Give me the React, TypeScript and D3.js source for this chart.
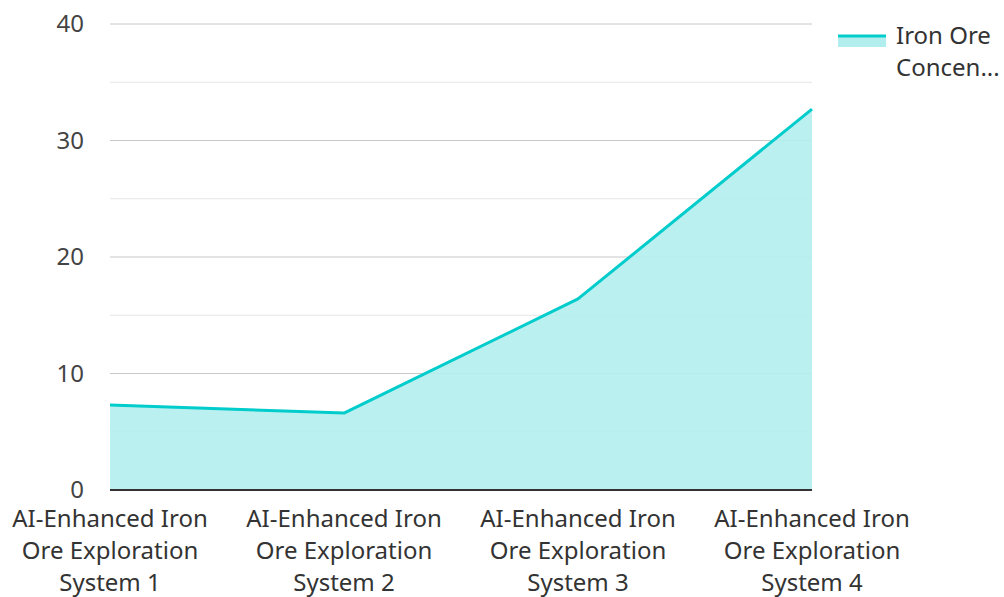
import * as d3 from "d3"
import React from "react"

const categories = [
  "AI-Enhanced Iron Ore Exploration System 1",
  "AI-Enhanced Iron Ore Exploration System 2",
  "AI-Enhanced Iron Ore Exploration System 3",
  "AI-Enhanced Iron Ore Exploration System 4",
]
const categoryLines = [
  ["AI-Enhanced Iron", "Ore Exploration", "System 1"],
  ["AI-Enhanced Iron", "Ore Exploration", "System 2"],
  ["AI-Enhanced Iron", "Ore Exploration", "System 3"],
  ["AI-Enhanced Iron", "Ore Exploration", "System 4"],
]
const concentration = [7.3, 6.6, 16.4, 32.7]
const majorTicks = [0, 10, 20, 30, 40]
const minorTicks = [5, 15, 25, 35]
const legendLines = ["Iron Ore", "Concen..."]

const width = 1004,
  height = 597
const font = "'Noto Sans', 'Open Sans', sans-serif"
const lineColor = "#00cccc"
const fillColor = "#b2eeee"

function App() {
  const x = d3.scalePoint<string>().domain(categories).range([110, 812])
  const y = d3.scaleLinear().domain([0, 40]).range([490, 24])

  const pts = categories.map((c, i) => [x(c) as number, y(concentration[i])] as [number, number])
  const area = d3
    .area<[number, number]>()
    .x((d) => d[0])
    .y0(y(0))
    .y1((d) => d[1])
  const line = d3.line<[number, number]>()

  return (
    <svg
      width={width}
      height={height}
      style={{ position: "absolute", left: 0, top: 0, fontFamily: font }}
    >
      {minorTicks.map((t) => (
        <line key={"m" + t} x1={110} x2={812} y1={y(t)} y2={y(t)} stroke="#e6e6e6" strokeWidth={1} />
      ))}
      {majorTicks.map((t) => (
        <line key={"M" + t} x1={110} x2={812} y1={y(t)} y2={y(t)} stroke="#c8c8c8" strokeWidth={1} />
      ))}
      <path d={area(pts) || ""} fill={fillColor} fillOpacity={0.9} />
      <path d={line(pts) || ""} fill="none" stroke={lineColor} strokeWidth={3} strokeLinejoin="round" />
      <line x1={110} x2={812} y1={y(0)} y2={y(0)} stroke="#333333" strokeWidth={2} />
      {majorTicks.map((t) => (
        <text key={"t" + t} x={84} y={y(t)} dy="0.35em" textAnchor="end" fontSize={24} fill="#444">
          {t}
        </text>
      ))}
      {categories.map((c, i) => (
        <text key={c} textAnchor="middle" fontSize={24} fill="#333">
          {categoryLines[i].map((l, j) => (
            <tspan key={j} x={x(c)} y={527 + j * 32}>
              {l}
            </tspan>
          ))}
        </text>
      ))}
      <rect x={838} y={36} width={48} height={11} fill={fillColor} />
      <line x1={838} x2={886} y1={36} y2={36} stroke={lineColor} strokeWidth={3} />
      {legendLines.map((l, j) => (
        <text key={l} x={896} y={44 + j * 32} fontSize={24} fill="#333">
          {l}
        </text>
      ))}
    </svg>
  )
}

export default App
